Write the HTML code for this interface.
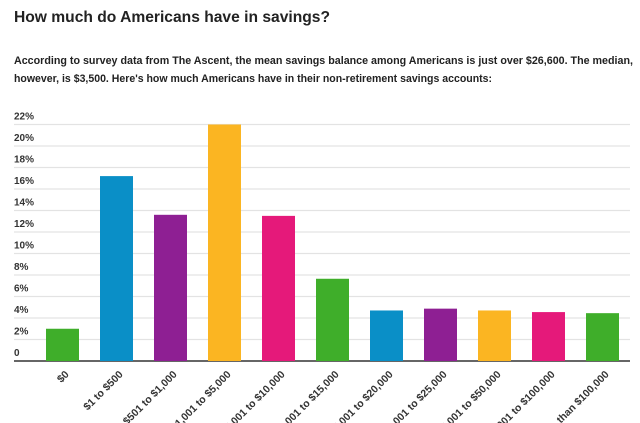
<!DOCTYPE html>
<html><head><meta charset="utf-8"><style>
html,body{margin:0;background:#fff;width:640px;height:423px;overflow:hidden;}
svg{display:block;font-family:"Liberation Sans",sans-serif;overflow:hidden;}
</style></head><body>
<svg id="chart" width="640" height="423">
<text x="14" y="22" font-size="16" font-weight="bold" fill="#222" textLength="316" lengthAdjust="spacingAndGlyphs">How much do Americans have in savings?</text>
<text x="14" y="64" font-size="11" font-weight="bold" fill="#222" textLength="619" lengthAdjust="spacingAndGlyphs">According to survey data from The Ascent, the mean savings balance among Americans is just over $26,600. The median,</text>
<text x="14" y="82" font-size="11" font-weight="bold" fill="#222" textLength="478" lengthAdjust="spacingAndGlyphs">however, is $3,500. Here's how much Americans have in their non-retirement savings accounts:</text>
<g id="grid"></g><g id="bars"></g><g id="labels"></g>
</svg>
<script>
const categories=["$0","$1 to $500","$501 to $1,000","$1,001 to $5,000","$5,001 to $10,000","$10,001 to $15,000","$15,001 to $20,000","$20,001 to $25,000","$25,001 to $50,000","$50,001 to $100,000","More than $100,000"];
const values=[3.0,17.2,13.6,22.0,13.5,7.65,4.7,4.87,4.7,4.55,4.45];
const ticks=[0,2,4,6,8,10,12,14,16,18,20,22];
const tickLabels=["0","2%","4%","6%","8%","10%","12%","14%","16%","18%","20%","22%"];
const colors=["#3fae2a","#0a8fc7","#8e1f93","#fbb522","#e5197a"];
const NS="http://www.w3.org/2000/svg";
const y0=361,pxPer=10.75,x0=46,pitch=54,bw=33;
const y=v=>y0-v*pxPer;
const x=i=>x0+i*pitch;
function mk(t,a,p){const e=document.createElementNS(NS,t);for(const k in a)e.setAttribute(k,a[k]);p.appendChild(e);return e;}
const grid=document.getElementById('grid'),bars=document.getElementById('bars'),labels=document.getElementById('labels');
ticks.forEach((t,i)=>{
  if(t>0){const l=mk('line',{x1:14,x2:630,y1:y(t),y2:y(t),stroke:'#e3e3e3','stroke-width':1.2},grid);
  
  }
  const tx=mk('text',{x:14,y:y(t)-5,'font-size':10,'font-weight':'bold',fill:'#333'},grid);
  tx.textContent=tickLabels[i];
  
  
});
values.forEach((v,i)=>{
  const r=mk('rect',{x:x(i),y:y(v),width:bw,height:y0-y(v),fill:colors[i%5]},bars);
  
  
  const cx=x(i)+bw/2+7,cy=y0+14;
  const t=mk('text',{x:cx,y:cy,'font-size':10.5,'font-weight':'bold',fill:'#333','text-anchor':'end',transform:`rotate(-45 ${cx} ${cy})`},labels);
  t.textContent=categories[i];
  
  
});
const ax=mk('line',{x1:14,x2:630,y1:y0,y2:y0,stroke:'#333','stroke-width':1.6},grid);


</script>
</body></html>
